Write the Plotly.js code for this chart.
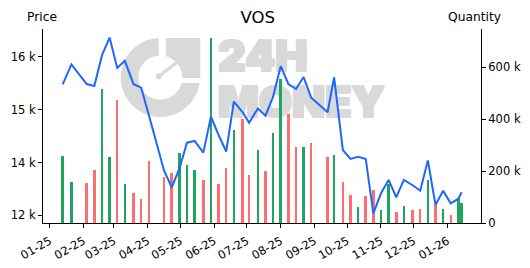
<!DOCTYPE html>
<html>
<head>
<meta charset="utf-8">
<script src="https://cdn.plot.ly/plotly-3.0.1.min.js"></script>
<style>html,body{margin:0;padding:0;background:#fff;}#chart{width:530px;height:268px;}</style>
</head>
<body>
<div id="chart"></div>
<script>
const dates = ["2025-01-13","2025-01-21","2025-02-04","2025-02-11","2025-02-18","2025-02-25","2025-03-04","2025-03-11","2025-03-19","2025-03-26",
"2025-04-02","2025-04-16","2025-04-23","2025-04-30","2025-05-07","2025-05-14","2025-05-22","2025-05-29","2025-06-05","2025-06-12",
"2025-06-19","2025-06-27","2025-07-03","2025-07-11","2025-07-18","2025-07-25","2025-08-01","2025-08-08","2025-08-15","2025-08-22",
"2025-08-29","2025-09-13","2025-09-19","2025-09-27","2025-10-04","2025-10-11","2025-10-18","2025-10-25","2025-11-01","2025-11-08",
"2025-11-15","2025-11-22","2025-11-30","2025-12-07","2025-12-14","2025-12-21","2025-12-28","2026-01-04","2026-01-11","2026-01-14"];
const price = [15478,15856,15484,15446,16025,16362,15788,15922,15480,15414,
14897,13845,13532,13878,14375,14407,14186,14866,14520,14208,
15150,14955,14750,15020,14885,15244,15820,15484,15390,15615,
15225,14949,15611,14237,14067,14110,14067,13040,13418,13670,
13343,13670,13570,13467,14040,13197,13467,13229,13316,13437];
const volume = [258000,159000,154000,204000,516000,254000,472000,150000,115000,93000,
237000,177000,193000,268000,223000,204000,165000,711000,150000,211000,
358000,399000,184000,281000,201000,348000,554000,420000,292000,292000,
309000,254000,262000,158000,108000,61000,104000,127000,50000,150000,
42000,65000,50000,54000,165000,69000,54000,30000,96000,77000];
const priceTickVals = [13000,14000,15000,16000];
const priceTickText = ["12 k","14 k","15 k","16 k"];
const volTickVals = [0,200000,400000,600000];
const volTickText = ["0","200 k","400 k","600 k"];
const titleText = "VOS";
const priceLabel = "Price";
const volLabel = "Quantity";
const wmTop = "24H";
const wmBottom = "MONEY";

const GREEN = "#1fa463", RED = "#ff6e6e", BLUE = "#1f66ff";
const barColors = price.map((p,i) => (i === 0 || p >= price[i-1]) ? GREEN : RED);

// plot area in pixels
const L = 42.7, R = 480.7, T = 29, B = 223;
const W = 530, H = 268;
const px = x => (x - L) / (R - L);
const py = y => (B - y) / (B - T);
const WM = "#d9d9d9";

function arcPts(cx, cy, r, a0, a1, n) {
  const pts = [];
  for (let i = 0; i <= n; i++) {
    const a = (a0 + (a1 - a0) * i / n) * Math.PI / 180;
    pts.push([cx + r * Math.cos(a), cy - r * Math.sin(a)]);
  }
  return pts;
}
function toPath(pts) {
  return pts.map((p, i) => (i ? "L" : "M") + px(p[0]).toFixed(5) + "," + py(p[1]).toFixed(5)).join(" ") + " Z";
}
const cx = 160, cy = 77.5, ro = 39.5, ri = 22;
const cPiece = arcPts(cx, cy, ro, 92.2, 352, 80).concat(arcPts(cx, cy, ri, 345.5, 93.9, 60));
const blockPiece = [[165.5, 38], [200, 38], [200, 78]].concat(arcPts(cx, cy, ri, -1.3, 75.5, 24));
const sh = "1px 1px 0 " + WM + ", -1px -1px 0 " + WM + ", 1px -1px 0 " + WM + ", -1px 1px 0 " + WM;
const wmFont = {family: "Inter, Lato, DejaVu Sans", size: 43, color: WM, weight: 900, shadow: sh};
const shapes = [
  {type: "path", xref: "paper", yref: "paper", layer: "below", path: toPath(cPiece), fillcolor: WM, line: {width: 0}},
  {type: "path", xref: "paper", yref: "paper", layer: "below", path: toPath(blockPiece), fillcolor: WM, line: {width: 0}},
  {type: "line", xref: "paper", yref: "paper", layer: "below", x0: px(158.5), y0: py(76.5), x1: px(180), y1: py(59.5), line: {color: WM, width: 3}},
  {type: "circle", xref: "paper", yref: "paper", layer: "below", x0: px(155.5), y0: py(73.5), x1: px(161.5), y1: py(79.5), fillcolor: WM, line: {width: 0}},
  {type: "rect", xref: "paper", yref: "paper", layer: "below", x0: px(219), y0: py(37), x1: px(306), y1: py(71), fillcolor: "rgba(0,0,0,0)", line: {width: 0},
    label: {text: wmTop, textposition: "middle center", font: wmFont}},
  {type: "rect", xref: "paper", yref: "paper", layer: "below", x0: px(219), y0: py(82), x1: px(383), y1: py(117), fillcolor: "rgba(0,0,0,0)", line: {width: 0},
    label: {text: wmBottom, textposition: "middle center", font: wmFont}}
];

const DAY = 86400000;
const traces = [
  {type: "bar", x: dates, y: volume, yaxis: "y", marker: {color: barColors, line: {width: 0}}, width: 2.3 * DAY, hoverinfo: "skip"},
  {type: "scatter", mode: "lines", x: dates, y: price, yaxis: "y2", line: {color: BLUE, width: 2}, hoverinfo: "skip"}
];
const FONT = "DejaVu Sans";
const axCommon = {showline: true, linecolor: "#000", linewidth: 1, ticks: "outside", ticklen: 4, tickcolor: "#000", tickwidth: 1,
  showgrid: false, zeroline: false, tickfont: {family: FONT, size: 11.5, color: "#000"}};
const layout = {
  width: W, height: H,
  margin: {l: L, r: W - R, t: T, b: H - B, pad: 0},
  paper_bgcolor: "#fff", plot_bgcolor: "rgba(0,0,0,0)",
  showlegend: false,
  bargap: 0,
  font: {family: FONT, color: "#000"},
  title: {text: titleText, font: {family: FONT, size: 16.5, color: "#000"}, xref: "paper", x: px(257.5), xanchor: "center", yref: "container", y: 1 - 17.5 / H, yanchor: "middle"},
  xaxis: Object.assign({}, axCommon, {type: "date", range: ["2024-12-25 22:00", "2026-01-31 18:00"], tick0: "2025-01-01", dtick: "M1", tickformat: "%m-%y", tickangle: -30, ticklabelstandoff: 2, mirror: false}),
  yaxis: Object.assign({}, axCommon, {side: "right", range: [0, 747000], tickvals: volTickVals, ticktext: volTickText}),
  yaxis2: Object.assign({}, axCommon, {side: "left", overlaying: "y", anchor: "x", range: [12856, 16524], tickvals: priceTickVals, ticktext: priceTickText}),
  shapes: shapes,
  annotations: [
    {text: priceLabel, xref: "paper", yref: "paper", x: px(42), y: py(16.5), xanchor: "center", yanchor: "middle", showarrow: false, font: {family: FONT, size: 12.3, color: "#000"}},
    {text: volLabel, xref: "paper", yref: "paper", x: px(474), y: py(16.5), xanchor: "center", yanchor: "middle", showarrow: false, font: {family: FONT, size: 12.3, color: "#000"}}
  ]
};
Plotly.newPlot("chart", traces, layout, {staticPlot: true, displayModeBar: false});
</script>
</body>
</html>
